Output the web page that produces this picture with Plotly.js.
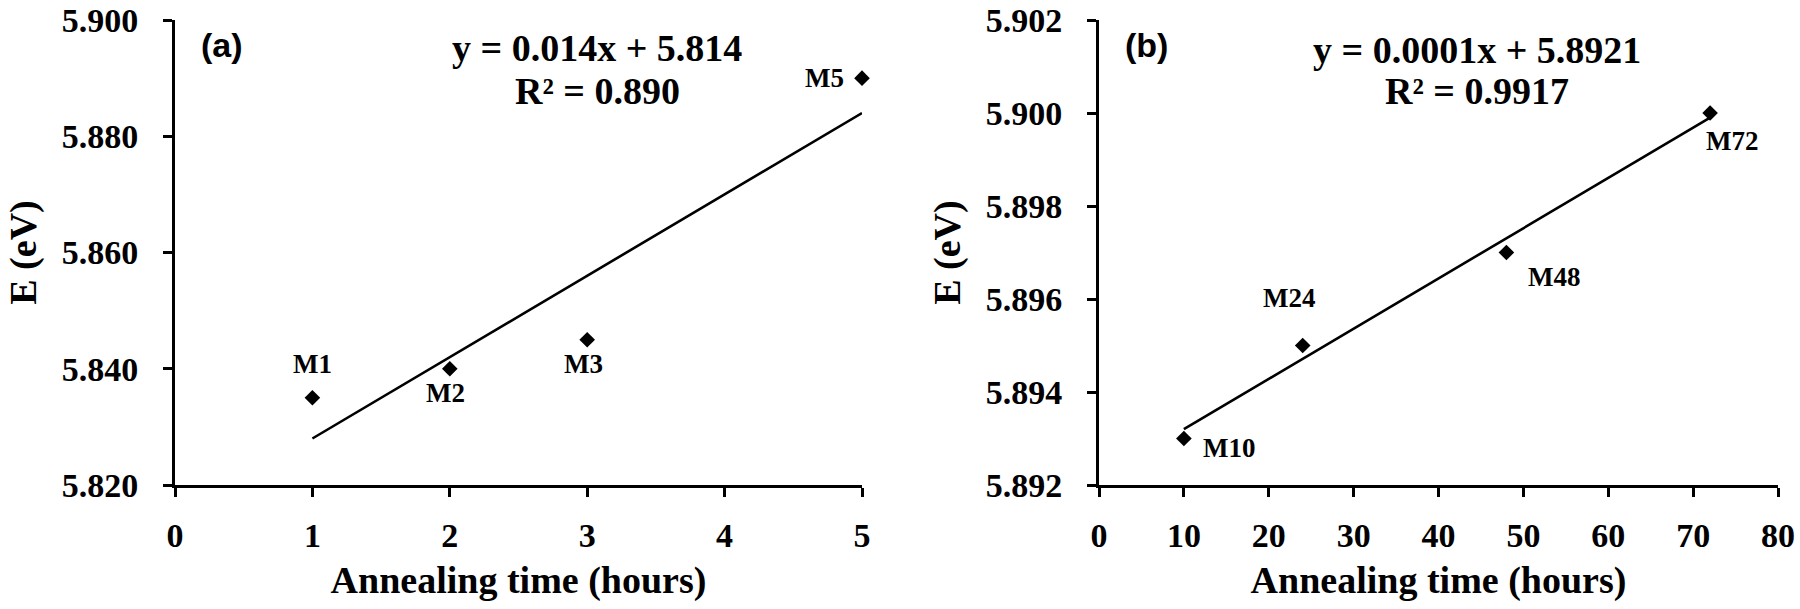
<!DOCTYPE html>
<html>
<head>
<meta charset="utf-8">
<script src="https://cdn.plot.ly/plotly-3.0.1.min.js"></script>
<style>html,body{margin:0;padding:0;background:#fff;}#chart{width:1800px;height:609px;}</style>
</head>
<body>
<div id="chart"></div>
<script>
// Panel (a): short annealing times
const timeA = [1, 2, 3, 5];
const energyA = [5.835, 5.840, 5.845, 5.890];
const labelsA = ['M1', 'M2', 'M3', 'M5'];
const trendAx = [1, 5];
const trendAy = [5.828, 5.884];
const eqA = 'y = 0.014x + 5.814';
const r2A = 'R² = 0.890';

// Panel (b): long annealing times
const timeB = [10, 24, 48, 72];
const energyB = [5.893, 5.895, 5.897, 5.900];
const labelsB = ['M10', 'M24', 'M48', 'M72'];
const trendBx = [10, 72];
const trendBy = [5.8932, 5.8999];
const eqB = 'y = 0.0001x + 5.8921';
const r2B = 'R² = 0.9917';

const xTicksA = [0, 1, 2, 3, 4, 5];
const yTicksA = [5.820, 5.840, 5.860, 5.880, 5.900];
const xTicksB = [0, 10, 20, 30, 40, 50, 60, 70, 80];
const yTicksB = [5.892, 5.894, 5.896, 5.898, 5.900, 5.902];

const serif = 'Liberation Serif, Times New Roman, serif';
const sans = 'Liberation Sans, Arial, sans-serif';

const TOP = 20, BOT = 485, PH = BOT - TOP;

const traces = [
  {x: trendAx, y: trendAy, xaxis: 'x', yaxis: 'y', mode: 'lines', line: {color: '#000', width: 2.6}, hoverinfo: 'skip', cliponaxis: false},
  {x: timeA, y: energyA, xaxis: 'x', yaxis: 'y', mode: 'markers', marker: {symbol: 'diamond', size: 12, color: '#000'}, cliponaxis: false},
  {x: trendBx, y: trendBy, xaxis: 'x2', yaxis: 'y2', mode: 'lines', line: {color: '#000', width: 2.6}, hoverinfo: 'skip', cliponaxis: false},
  {x: timeB, y: energyB, xaxis: 'x2', yaxis: 'y2', mode: 'markers', marker: {symbol: 'diamond', size: 12, color: '#000'}, cliponaxis: false}
];

function xAxis(dom, ticks, anchor) {
  return {
    domain: dom, anchor: anchor, range: [ticks[0], ticks[ticks.length - 1]],
    tickmode: 'array', tickvals: ticks, ticktext: ticks.map(String),
    showgrid: false, zeroline: false, showline: true, linecolor: '#000', linewidth: 3,
    ticks: 'outside', ticklen: 9, tickwidth: 3, tickcolor: '#000', ticklabelstandoff: 9,
    ticklabeloverflow: 'allow',
    tickfont: {family: serif, size: 34, color: '#000', weight: 'bold'},
    title: {text: 'Annealing time (hours)', font: {family: serif, size: 38, color: '#000', weight: 'bold'}, standoff: 14}
  };
}
function yAxis(ticks, anchor) {
  return {
    domain: [0, 1], anchor: anchor, range: [ticks[0], ticks[ticks.length - 1]],
    tickmode: 'array', tickvals: ticks, ticktext: ticks.map(v => v.toFixed(3)),
    showgrid: false, zeroline: false, showline: true, linecolor: '#000', linewidth: 3,
    ticks: 'outside', ticklen: 9, tickwidth: 3, tickcolor: '#000', ticklabelstandoff: 18,
    ticklabeloverflow: 'allow',
    tickfont: {family: serif, size: 34, color: '#000', weight: 'bold'},
    title: {text: 'E (eV)', font: {family: serif, size: 38, color: '#000', weight: 'bold'}, standoff: 14}
  };
}

const annotations = [];
const offA = [[0, -34], [-4, 24], [-4, 24], [-38, 0]];
labelsA.forEach((t, i) => annotations.push({
  x: timeA[i], y: energyA[i], xref: 'x', yref: 'y', text: t, showarrow: false,
  xshift: offA[i][0], yshift: -offA[i][1],
  font: {family: serif, size: 27, color: '#000', weight: 'bold'}
}));
const offB = [[45, 9], [-14, -48], [48, 24], [22, 28]];
labelsB.forEach((t, i) => annotations.push({
  x: timeB[i], y: energyB[i], xref: 'x2', yref: 'y2', text: t, showarrow: false,
  xshift: offB[i][0], yshift: -offB[i][1],
  font: {family: serif, size: 27, color: '#000', weight: 'bold'}
}));
const py = v => 1 - (v - TOP) / PH;
annotations.push(
  {xref: 'paper', yref: 'paper', x: (597 - 175) / 1603, y: py(48), text: eqA, showarrow: false, xanchor: 'center', yanchor: 'middle', font: {family: serif, size: 38, color: '#000', weight: 'bold'}},
  {xref: 'paper', yref: 'paper', x: (597 - 175) / 1603, y: py(91), text: r2A, showarrow: false, xanchor: 'center', yanchor: 'middle', font: {family: serif, size: 38, color: '#000', weight: 'bold'}},
  {xref: 'paper', yref: 'paper', x: (1477 - 175) / 1603, y: py(50), text: eqB, showarrow: false, xanchor: 'center', yanchor: 'middle', font: {family: serif, size: 38, color: '#000', weight: 'bold'}},
  {xref: 'paper', yref: 'paper', x: (1477 - 175) / 1603, y: py(91), text: r2B, showarrow: false, xanchor: 'center', yanchor: 'middle', font: {family: serif, size: 38, color: '#000', weight: 'bold'}},
  {xref: 'paper', yref: 'paper', x: (199 - 175) / 1603, y: py(45), text: '(a)', showarrow: false, xanchor: 'left', yanchor: 'middle', font: {family: sans, size: 34, color: '#000', weight: 'bold'}},
  {xref: 'paper', yref: 'paper', x: (1123 - 175) / 1603, y: py(45), text: '(b)', showarrow: false, xanchor: 'left', yanchor: 'middle', font: {family: sans, size: 34, color: '#000', weight: 'bold'}}
);

const layout = {
  width: 1800, height: 609,
  margin: {l: 175, r: 22, t: TOP, b: 609 - BOT},
  paper_bgcolor: '#fff', plot_bgcolor: '#fff',
  showlegend: false,
  xaxis: xAxis([0, (862 - 175) / 1603], xTicksA, 'y'),
  yaxis: yAxis(yTicksA, 'x'),
  xaxis2: xAxis([(1099 - 175) / 1603, 1], xTicksB, 'y2'),
  yaxis2: yAxis(yTicksB, 'x2'),
  annotations: annotations
};

Plotly.newPlot('chart', traces, layout, {staticPlot: true, displayModeBar: false});
</script>
</body>
</html>
